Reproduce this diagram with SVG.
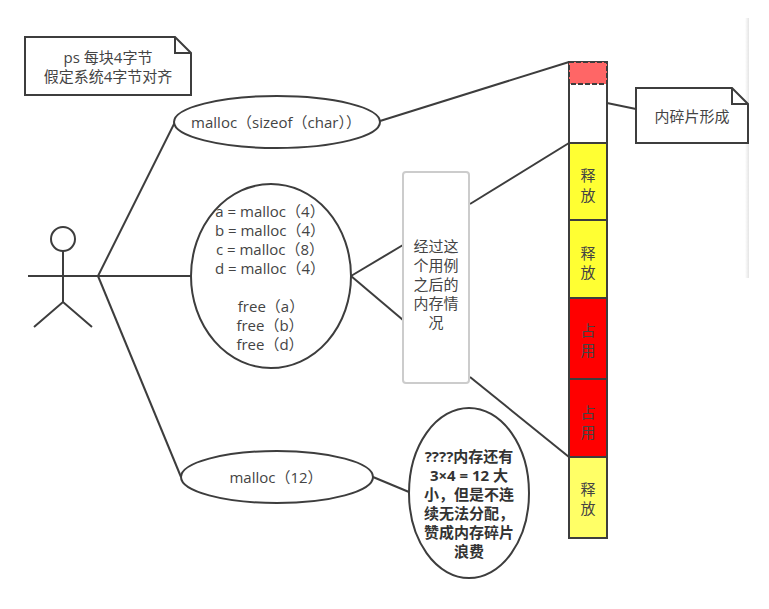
<svg xmlns="http://www.w3.org/2000/svg" width="769" height="609" viewBox="0 0 769 609">
<defs>
<linearGradient id="shade" x1="0" x2="1" y1="0" y2="0"><stop offset="0" stop-color="#fff"/><stop offset="1" stop-color="#e4e4e4"/></linearGradient>
</defs>
<style>
text{font-family:"Open Sans","Noto Sans CJK SC",sans-serif;font-size:15px;fill:#444;text-anchor:middle}
.s{fill:#fff;stroke:#3d3d3d;stroke-width:2}
.l{fill:none;stroke:#3d3d3d;stroke-width:2}
.b{stroke:#3d3d3d;stroke-width:2}
.bold{font-weight:700;fill:#333}
</style>
<rect width="769" height="609" fill="#fff"/>
<rect x="745" y="18" width="4" height="260" fill="url(#shade)"/>
<g id="connectors">
<line class="l" x1="98" y1="276" x2="175" y2="122"/>
<line class="l" x1="98" y1="276" x2="191" y2="276"/>
<line class="l" x1="98" y1="276" x2="181" y2="477"/>
<line class="l" x1="380" y1="121" x2="569" y2="62"/>
<line class="l" x1="351" y1="276" x2="403" y2="245"/>
<line class="l" x1="351" y1="276" x2="403" y2="320"/>
<line class="l" x1="470" y1="204" x2="569" y2="143"/>
<line class="l" x1="470" y1="377" x2="569" y2="457"/>
<line class="l" x1="373" y1="477" x2="409" y2="492"/>
<line class="l" x1="607" y1="103" x2="636" y2="109"/>
</g>
<g id="note-ps">
<path class="s" d="M25 37H175L191 53V95H25Z"/><path class="l" d="M175 37V53H191"/>
<text x="108" y="63">ps 每块4字节</text><text x="108" y="82">假定系统4字节对齐</text>
</g>
<g id="actor">
<circle class="l" cx="63" cy="239" r="12"/>
<path class="l" d="M63 251V302M28 276H98M34 327L63 302L92 327"/>
</g>
<g id="use-char">
<ellipse class="s" cx="277" cy="122" rx="103" ry="26"/>
<text x="276" y="128">malloc（sizeof（char））</text>
</g>
<g id="use-abcd">
<ellipse class="s" cx="271" cy="276" rx="80" ry="92"/>
<text x="270" y="217">a = malloc（4）</text>
<text x="270" y="236">b = malloc（4）</text>
<text x="270" y="255">c = malloc（8）</text>
<text x="270" y="274">d = malloc（4）</text>
<text x="271" y="312">free（a）</text>
<text x="270" y="331">free（b）</text>
<text x="270" y="350">free（d）</text>
</g>
<g id="use-12">
<ellipse class="s" cx="277" cy="477" rx="96" ry="26"/>
<text x="276" y="483">malloc（12）</text>
</g>
<g id="state">
<rect x="403" y="172" width="66" height="211" rx="3" fill="#fff" stroke="#ccc" stroke-width="2"/>
<text x="436" y="252">经过这</text><text x="436" y="271">个用例</text><text x="436" y="290">之后的</text><text x="436" y="309">内存情</text><text x="436" y="328">况</text>
</g>
<g id="result">
<ellipse class="s" cx="469" cy="493" rx="60" ry="85"/>
<text class="bold" x="469" y="462">????内存还有</text><text class="bold" x="469" y="481">3×4 = 12 大</text><text class="bold" x="469" y="500">小，但是不连</text><text class="bold" x="469" y="519">续无法分配，</text><text class="bold" x="469" y="538">赞成内存碎片</text><text class="bold" x="469" y="557">浪费</text>
</g>
<g id="memory">
<rect class="b" x="569" y="62" width="38" height="81" fill="#fff"/>
<rect x="569" y="62" width="38" height="22" fill="#ff6666" stroke="#3d3d3d" stroke-width="2" stroke-dasharray="5 2"/>
<rect class="b" x="569" y="143" width="38" height="77" fill="#ffff33"/>
<rect class="b" x="569" y="220" width="38" height="78" fill="#ffff33"/>
<rect class="b" x="569" y="298" width="38" height="81" fill="#f00"/>
<rect class="b" x="569" y="379" width="38" height="78" fill="#f00"/>
<rect class="b" x="569" y="457" width="38" height="81" fill="#ffff66"/>
<text x="588" y="181">释</text><text x="588" y="201">放</text>
<text x="588" y="259">释</text><text x="588" y="278">放</text>
<text x="588" y="336">占</text><text x="588" y="356">用</text>
<text x="588" y="418">占</text><text x="588" y="438">用</text>
<text x="588" y="495">释</text><text x="588" y="514">放</text>
</g>
<g id="note-frag">
<path class="s" d="M636 88H732L748 104V143H636Z"/><path class="l" d="M732 88V104H748"/>
<text x="692" y="122">内碎片形成</text>
</g>
</svg>
